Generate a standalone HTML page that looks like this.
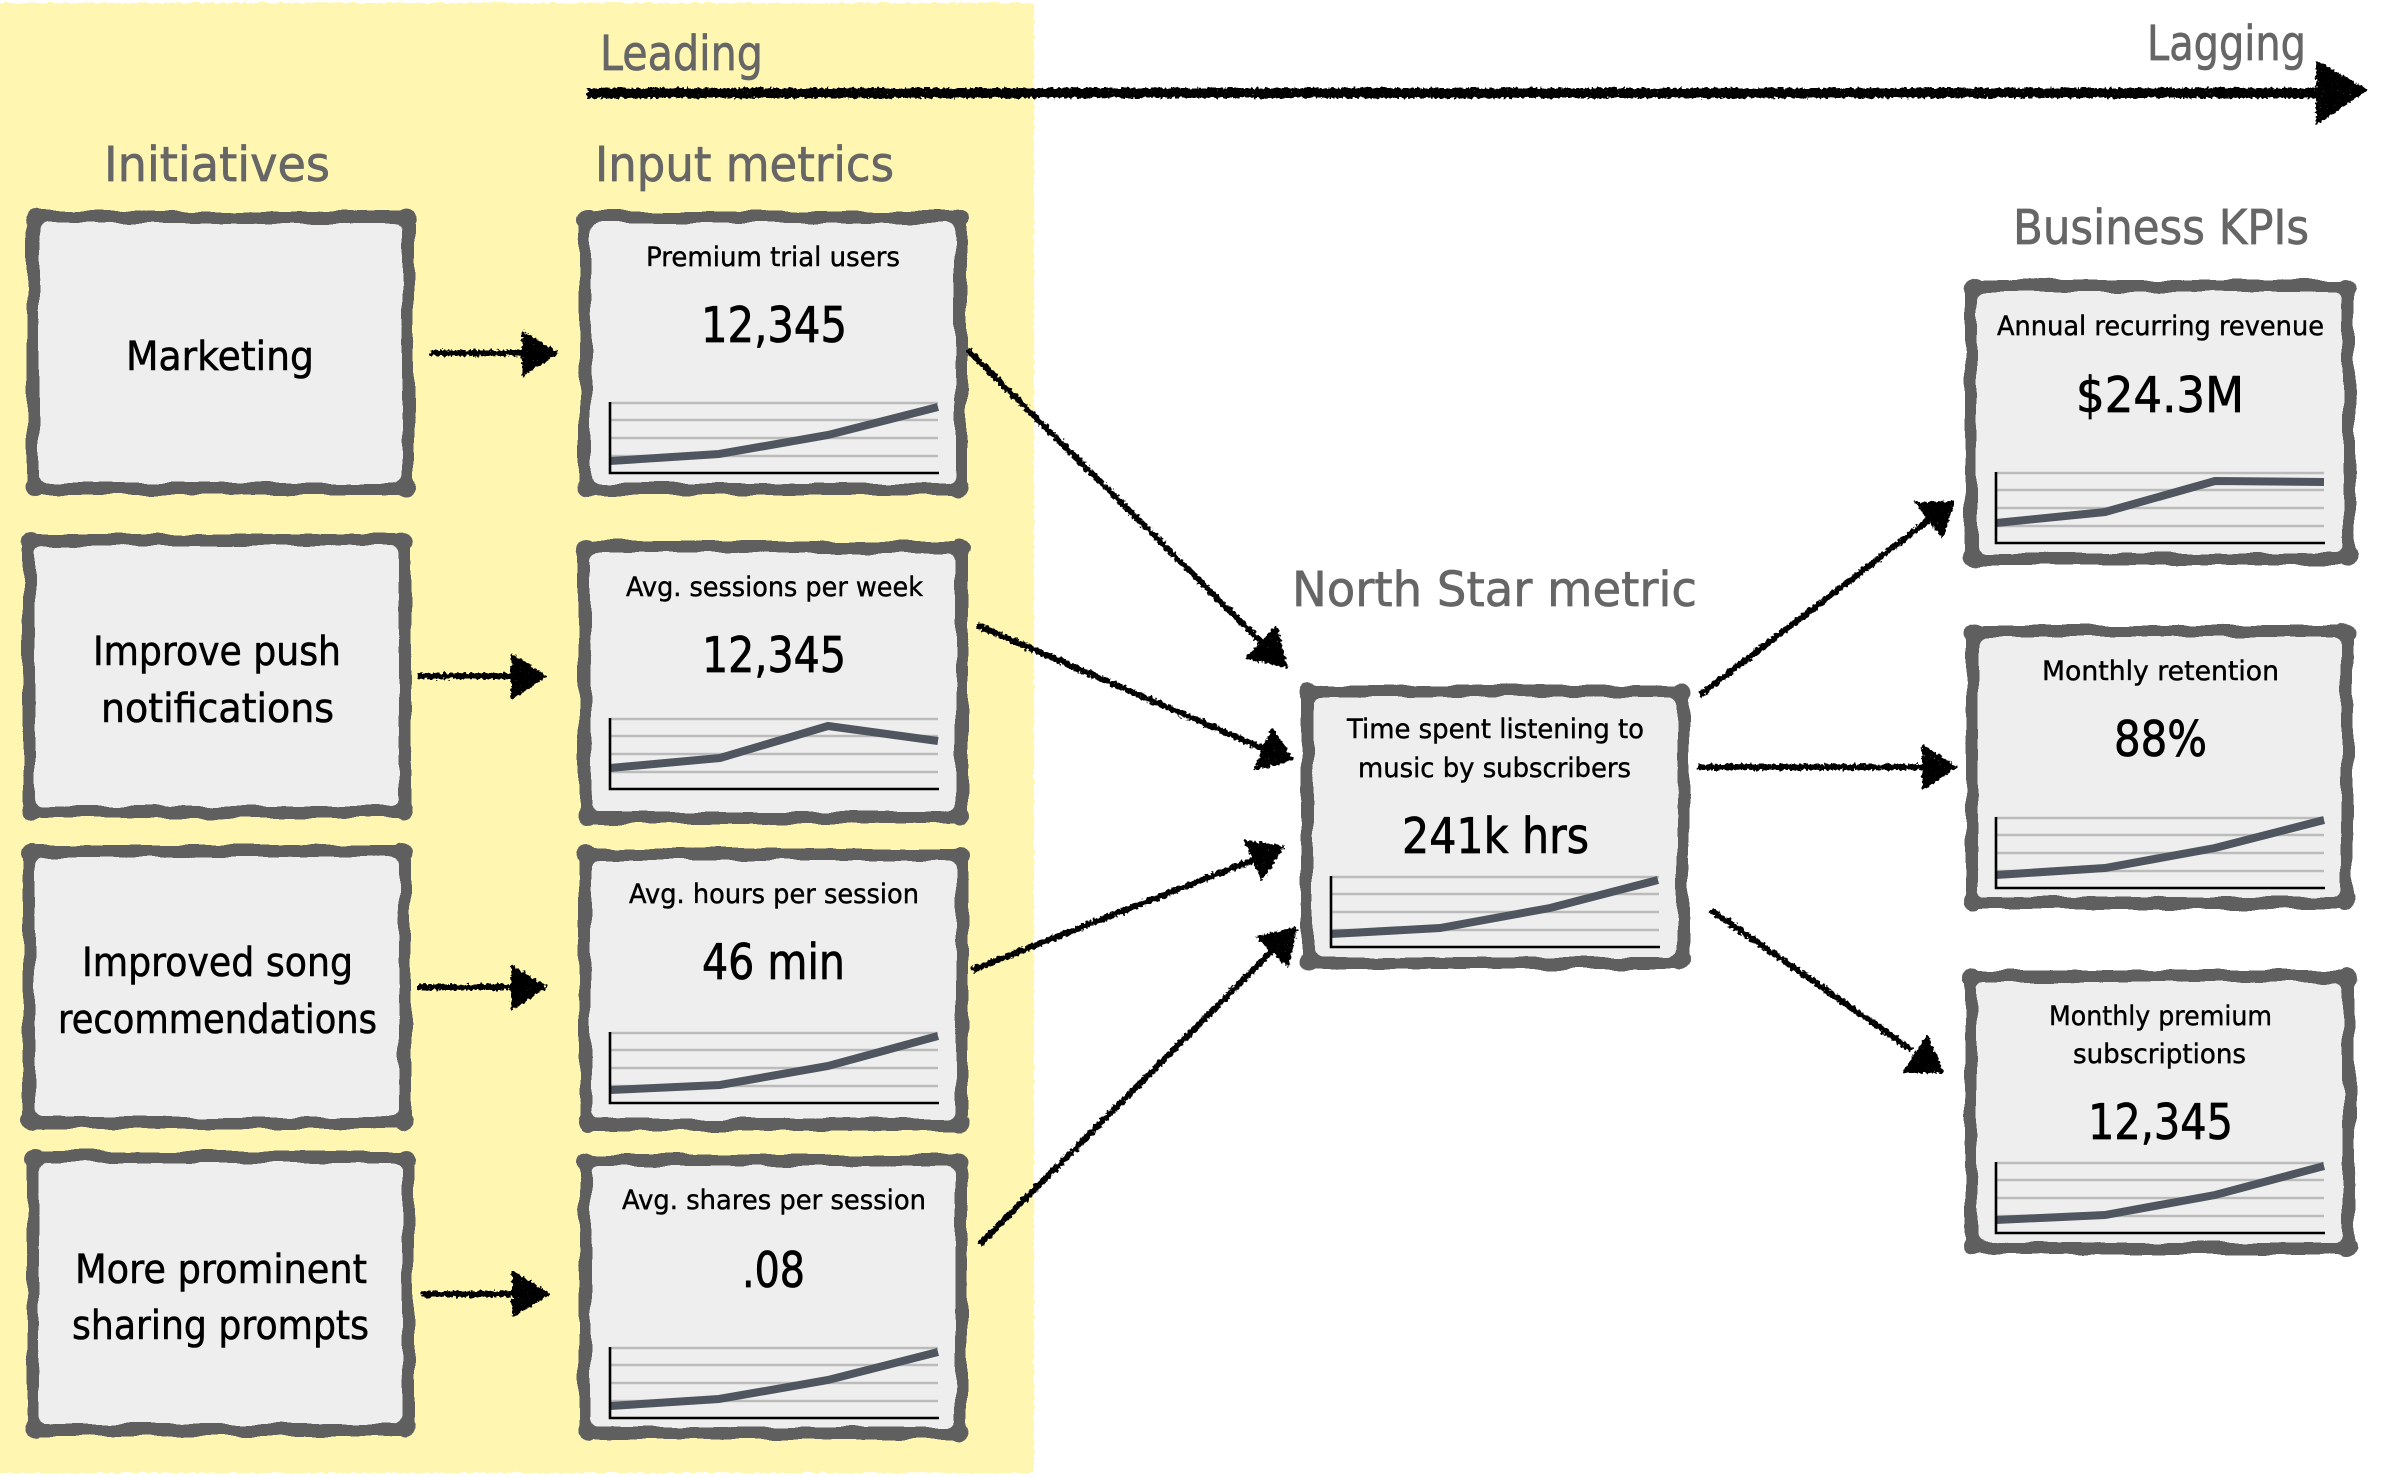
<!DOCTYPE html>
<html><head><meta charset="utf-8"><title>North Star metric</title>
<style>
html,body{margin:0;padding:0;background:#fff}
svg{display:block}
text{font-family:"DejaVu Sans","Liberation Sans",sans-serif;fill:#000}
.h{font-size:48px;fill:#666;stroke:#666;stroke-width:.7}
.t{font-size:27px;stroke:#000;stroke-width:.45}
.v{font-size:49px;stroke:#000;stroke-width:.8}
.i{font-size:40px;stroke:#000;stroke-width:.6}
.g line{stroke:#bbb;stroke-width:2.4}
.s{fill:none;stroke:#50565f;stroke-width:8}
.a{fill:none;stroke:#000;stroke-width:2.6}
</style></head><body>
<svg xmlns="http://www.w3.org/2000/svg" width="2398" height="1478" viewBox="0 0 2398 1478">
<defs>
<filter id="w" color-interpolation-filters="sRGB" filterUnits="userSpaceOnUse" x="0" y="0" width="2398" height="1478"><feTurbulence type="fractalNoise" baseFrequency="0.03" numOctaves="2" seed="4"/><feDisplacementMap in="SourceGraphic" scale="8" xChannelSelector="R" yChannelSelector="G"/></filter>
<filter id="c" color-interpolation-filters="sRGB" filterUnits="userSpaceOnUse" x="0" y="0" width="2398" height="1478"><feTurbulence type="fractalNoise" baseFrequency="0.3" numOctaves="2" seed="7" result="n"/><feDisplacementMap in="SourceGraphic" in2="n" scale="6" xChannelSelector="R" yChannelSelector="G" result="d"/><feTurbulence type="fractalNoise" baseFrequency="0.7" numOctaves="1" seed="11"/><feColorMatrix type="matrix" values="0 0 0 0 0  0 0 0 0 0  0 0 0 0 0  9 0 0 0 -1.5" result="m"/><feComposite in="d" in2="m" operator="in"/></filter>
<filter id="y" color-interpolation-filters="sRGB" filterUnits="userSpaceOnUse" x="0" y="0" width="2398" height="1478"><feTurbulence type="fractalNoise" baseFrequency="0.2" numOctaves="1" seed="2"/><feDisplacementMap in="SourceGraphic" scale="5" xChannelSelector="R" yChannelSelector="G"/></filter>
<g id="gr" class="g"><line x1="0" x2="328" y1="-70"  y2="-70"/><line x1="0" x2="328" y1="-53" y2="-53"/><line x1="0" x2="328" y1="-35" y2="-35"/><line x1="0" x2="328" y1="-17" y2="-17"/></g>
<path id="ax" class="a" d="M0-71V0H329"/>
</defs>
<rect x="-10" y="3" width="1044" height="1470" fill="#fff6b2" filter="url(#y)"/>

<g filter="url(#w)">
<g fill="#5f5f5f">
<rect x="27" y="211" width="387" height="284" rx="6"/><circle cx="35" cy="219" r="10"/><circle cx="406" cy="219" r="10"/><circle cx="35" cy="487" r="10"/><circle cx="406" cy="487" r="10"/>
<rect x="23" y="534" width="388" height="284" rx="6"/><circle cx="31" cy="542" r="10"/><circle cx="403" cy="542" r="10"/><circle cx="31" cy="810" r="10"/><circle cx="403" cy="810" r="10"/>
<rect x="23" y="845" width="388" height="284" rx="6"/><circle cx="31" cy="853" r="10"/><circle cx="403" cy="853" r="10"/><circle cx="31" cy="1121" r="10"/><circle cx="403" cy="1121" r="10"/>
<rect x="27" y="1151" width="387" height="285" rx="6"/><circle cx="35" cy="1159" r="10"/><circle cx="406" cy="1159" r="10"/><circle cx="35" cy="1428" r="10"/><circle cx="406" cy="1428" r="10"/>
<rect x="579" y="211" width="388" height="284" rx="6"/><circle cx="587" cy="219" r="10"/><circle cx="959" cy="219" r="10"/><circle cx="587" cy="487" r="10"/><circle cx="959" cy="487" r="10"/>
<rect x="579" y="541" width="389" height="283" rx="6"/><circle cx="587" cy="549" r="10"/><circle cx="960" cy="549" r="10"/><circle cx="587" cy="816" r="10"/><circle cx="960" cy="816" r="10"/>
<rect x="579" y="848" width="389" height="283" rx="6"/><circle cx="587" cy="856" r="10"/><circle cx="960" cy="856" r="10"/><circle cx="587" cy="1123" r="10"/><circle cx="960" cy="1123" r="10"/>
<rect x="579" y="1154" width="388" height="285" rx="6"/><circle cx="587" cy="1162" r="10"/><circle cx="959" cy="1162" r="10"/><circle cx="587" cy="1431" r="10"/><circle cx="959" cy="1431" r="10"/>
<rect x="1301" y="685" width="388" height="284" rx="6"/><circle cx="1309" cy="693" r="10"/><circle cx="1681" cy="693" r="10"/><circle cx="1309" cy="961" r="10"/><circle cx="1681" cy="961" r="10"/>
<rect x="1965" y="280" width="390" height="285" rx="6"/><circle cx="1973" cy="288" r="10"/><circle cx="2347" cy="288" r="10"/><circle cx="1973" cy="557" r="10"/><circle cx="2347" cy="557" r="10"/>
<rect x="1966" y="625" width="387" height="284" rx="6"/><circle cx="1974" cy="633" r="10"/><circle cx="2345" cy="633" r="10"/><circle cx="1974" cy="901" r="10"/><circle cx="2345" cy="901" r="10"/>
<rect x="1965" y="970" width="390" height="284" rx="6"/><circle cx="1973" cy="978" r="10"/><circle cx="2347" cy="978" r="10"/><circle cx="1973" cy="1246" r="10"/><circle cx="2347" cy="1246" r="10"/>
</g>
<g fill="#eee">
<rect x="39" y="223" width="363" height="260" rx="8"/>
<rect x="35" y="546" width="364" height="260" rx="8"/>
<rect x="35" y="857" width="364" height="260" rx="8"/>
<rect x="39" y="1163" width="363" height="261" rx="8"/>
<rect x="591" y="223" width="364" height="260" rx="8"/>
<rect x="591" y="553" width="365" height="259" rx="8"/>
<rect x="591" y="860" width="365" height="259" rx="8"/>
<rect x="591" y="1166" width="364" height="261" rx="8"/>
<rect x="1313" y="697" width="364" height="260" rx="8"/>
<rect x="1977" y="292" width="366" height="261" rx="8"/>
<rect x="1978" y="637" width="363" height="260" rx="8"/>
<rect x="1977" y="982" width="366" height="260" rx="8"/>
</g>
</g>

<g transform="translate(610,473)"><use href="#gr"/><polyline class="s" points="0,-12 109,-19 218,-38 328,-66"/><use href="#ax"/></g>
<g transform="translate(610,789)"><use href="#gr"/><polyline class="s" points="0,-21 110,-31 218,-63 328,-48"/><use href="#ax"/></g>
<g transform="translate(610,1103)"><use href="#gr"/><polyline class="s" points="0,-13 110,-18 218,-37 328,-67"/><use href="#ax"/></g>
<g transform="translate(610,1418)"><use href="#gr"/><polyline class="s" points="0,-12 109,-19 218,-38 328,-66"/><use href="#ax"/></g>
<g transform="translate(1331,947)"><use href="#gr"/><polyline class="s" points="0,-13 109,-19 219,-39 327,-67"/><use href="#ax"/></g>
<g transform="translate(1996,543)"><use href="#gr"/><polyline class="s" points="0,-20 109,-31 219,-62 328,-61"/><use href="#ax"/></g>
<g transform="translate(1996,888)"><use href="#gr"/><polyline class="s" points="0,-13 109,-20 219,-40 328,-68"/><use href="#ax"/></g>
<g transform="translate(1996,1233)"><use href="#gr"/><polyline class="s" points="0,-13 109,-18 219,-38 328,-67"/><use href="#ax"/></g>

<text class="h" x="600" y="70" textLength="163" lengthAdjust="spacingAndGlyphs">Leading</text>
<text class="h" x="2147" y="60" textLength="159" lengthAdjust="spacingAndGlyphs">Lagging</text>
<text class="h" x="104" y="181" textLength="226" lengthAdjust="spacingAndGlyphs">Initiatives</text>
<text class="h" x="595" y="181" textLength="299" lengthAdjust="spacingAndGlyphs">Input metrics</text>
<text class="h" x="1292" y="606" textLength="405" lengthAdjust="spacingAndGlyphs">North Star metric</text>
<text class="h" x="2013" y="244" textLength="296" lengthAdjust="spacingAndGlyphs">Business KPIs</text>

<text class="i" x="126" y="370" textLength="188" lengthAdjust="spacingAndGlyphs">Marketing</text>
<text class="i" x="93" y="665" textLength="248" lengthAdjust="spacingAndGlyphs">Improve push</text>
<text class="i" x="101" y="722" textLength="233" lengthAdjust="spacingAndGlyphs">notifications</text>
<text class="i" x="82" y="976" textLength="271" lengthAdjust="spacingAndGlyphs">Improved song</text>
<text class="i" x="58" y="1033" textLength="319" lengthAdjust="spacingAndGlyphs">recommendations</text>
<text class="i" x="75" y="1283" textLength="292" lengthAdjust="spacingAndGlyphs">More prominent</text>
<text class="i" x="72" y="1339" textLength="297" lengthAdjust="spacingAndGlyphs">sharing prompts</text>

<text class="t" x="646" y="266" textLength="254" lengthAdjust="spacingAndGlyphs">Premium trial users</text>
<text class="v" x="701" y="342" textLength="146" lengthAdjust="spacingAndGlyphs">12,345</text>
<text class="t" x="626" y="596" textLength="297" lengthAdjust="spacingAndGlyphs">Avg. sessions per week</text>
<text class="v" x="702" y="672" textLength="144" lengthAdjust="spacingAndGlyphs">12,345</text>
<text class="t" x="629" y="903" textLength="290" lengthAdjust="spacingAndGlyphs">Avg. hours per session</text>
<text class="v" x="702" y="979" textLength="143" lengthAdjust="spacingAndGlyphs">46 min</text>
<text class="t" x="622" y="1209" textLength="304" lengthAdjust="spacingAndGlyphs">Avg. shares per session</text>
<text class="v" x="742" y="1287" textLength="63" lengthAdjust="spacingAndGlyphs">.08</text>

<text class="t" x="1347" y="738" textLength="297" lengthAdjust="spacingAndGlyphs">Time spent listening to</text>
<text class="t" x="1358" y="777" textLength="273" lengthAdjust="spacingAndGlyphs">music by subscribers</text>
<text class="v" x="1402" y="853" textLength="187" lengthAdjust="spacingAndGlyphs">241k hrs</text>

<text class="t" x="1997" y="335" textLength="327" lengthAdjust="spacingAndGlyphs">Annual recurring revenue</text>
<text class="v" x="2076" y="412" textLength="168" lengthAdjust="spacingAndGlyphs">$24.3M</text>
<text class="t" x="2042" y="680" textLength="237" lengthAdjust="spacingAndGlyphs">Monthly retention</text>
<text class="v" x="2114" y="756" textLength="93" lengthAdjust="spacingAndGlyphs">88%</text>
<text class="t" x="2049" y="1025" textLength="223" lengthAdjust="spacingAndGlyphs">Monthly premium</text>
<text class="t" x="2073" y="1063" textLength="173" lengthAdjust="spacingAndGlyphs">subscriptions</text>
<text class="v" x="2088" y="1139" textLength="145" lengthAdjust="spacingAndGlyphs">12,345</text>

<g filter="url(#c)" stroke="#000" fill="#000" stroke-linejoin="round">
<g fill="none" stroke-width="6">
<path d="M430 353H525"/><path d="M418 676H515"/><path d="M418 987H515"/><path d="M421 1294H515"/>
<path d="M968 350L1261 642"/><path d="M977 625L1264 749"/><path d="M972 970L1253 860"/><path d="M980 1244L1272 951"/>
<path d="M1700 695L1929 520"/><path d="M1698 767H1925"/><path d="M1711 910L1912 1050"/>
<path d="M587 93H2320" stroke-width="10"/>
</g>
<g stroke-width="2">
<polygon points="523,332 557,353 523,375"/>
<polygon points="512,655 546,676 512,698"/>
<polygon points="512,966 546,987 512,1009"/>
<polygon points="513,1272 549,1294 513,1316"/>
<polygon points="1276,627 1287,667 1247,658"/>
<polygon points="1272,729 1293,760 1255,769"/>
<polygon points="1245,841 1283,847 1262,879"/>
<polygon points="1257,937 1296,928 1288,966"/>
<polygon points="1916,503 1954,502 1942,537"/>
<polygon points="1923,746 1956,767 1923,789"/>
<polygon points="1927,1036 1943,1072 1904,1072"/>
<polygon points="2317,62 2367,90 2317,123"/>
</g>
</g>
</svg>
</body></html>
